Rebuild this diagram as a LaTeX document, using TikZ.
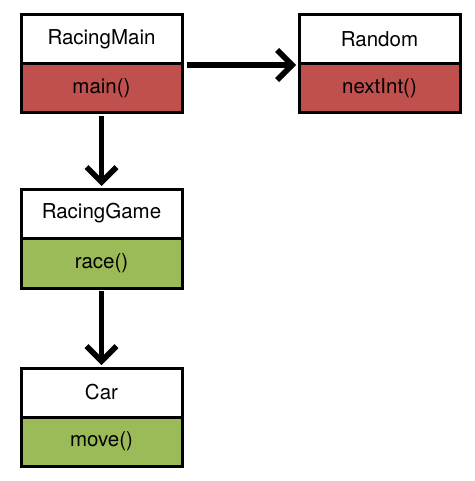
\documentclass[tikz,border=0pt]{standalone}
\usepackage{fontspec}
\setmainfont{TeX Gyre Heros}
\usetikzlibrary{arrows.meta}
\definecolor{mred}{HTML}{C0504D}
\definecolor{mgreen}{HTML}{9BBB59}
\tikzset{
  hdr/.style={draw=black, line width=3pt, fill=white, minimum width=161pt, minimum height=49pt, inner sep=0pt, font=\fontsize{20.5}{22}\selectfont},
  redm/.style={hdr, fill=mred, minimum height=50pt},
  greenm/.style={hdr, fill=mgreen, minimum height=50pt},
  conn/.style={line width=5.5pt, -{Straight Barb[length=15pt,width=30pt,line width=5.5pt]}}
}
\begin{document}
\begin{tikzpicture}[x=1pt,y=-1pt]
\useasboundingbox (0,0) rectangle (474,481);
\node[redm] (rmm) at (101.5,88) {main()};
\node[hdr] (rmh) at (101.5,39) {RacingMain};
\node[redm] (rdm) at (379.5,88) {nextInt()};
\node[hdr] (rdh) at (379.5,39) {Random};
\node[greenm] (rgm) at (101.5,263) {race()};
\node[hdr] (rgh) at (101.5,213.5) {RacingGame};
\node[greenm] (carm) at (101.5,441.5) {move()};
\node[hdr] (carh) at (101.5,392.5) {Car};
\draw[conn] ([xshift=3pt]rmh.south east) -- ([xshift=-1.5pt]rdh.south west);
\draw[conn] ([yshift=-1.5pt]rmm.south) -- ([yshift=1.5pt]rgh.north);
\draw[conn] ([yshift=-1.5pt]rgm.south) -- ([yshift=1.5pt]carh.north);
\end{tikzpicture}
\end{document}
